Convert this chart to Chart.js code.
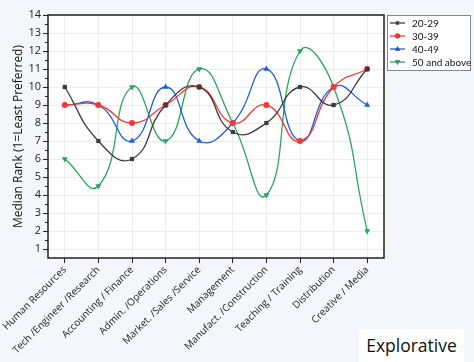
<!DOCTYPE html>
<html>
<head>
<meta charset="utf-8">
<script src="https://cdn.jsdelivr.net/npm/chart.js@4.4.1/dist/chart.umd.min.js"></script>
<style>
  html, body { margin: 0; padding: 0; background: #f5f6fb; }
  #wrap { position: relative; width: 474px; height: 362px; }
  #tag {
    position: absolute; left: 359px; top: 329px; width: 105px; height: 33px;
    background: #fff; font-family: "Open Sans", sans-serif; font-size: 17.5px;
    color: #111; text-align: center; line-height: 33px;
  }
</style>
</head>
<body>
<div id="wrap">
  <canvas id="chart" width="474" height="362"></canvas>
  <div id="tag">Explorative</div>
</div>
<script>
// Data
const categories = ['Human Resources', 'Tech /Engineer /Research', 'Accounting / Finance', 'Admin. /Operations',
  'Market. /Sales /Service', 'Management', 'Manufact. /Construction', 'Teaching / Training', 'Distribution', 'Creative / Media'];
const seriesNames = ['20-29', '30-39', '40-49', '50 and above'];
const age20 = [10, 7, 6, 9, 10, 7.5, 8, 10, 9, 11];
const age30 = [9, 9, 8, 9, 10, 8, 9, 7, 10, 11];
const age40 = [9, 9, 7, 10, 7, 8, 11, 7, 10, 9];
const age50 = [6, 4.5, 10, 7, 11, 8, 4, 12, 10, 2];
const yTicks = [1, 2, 3, 4, 5, 6, 7, 8, 9, 10, 11, 12, 13, 14];

// Styles
const colors = ['#3c3c3c', '#f03a3a', '#2060d8', '#2ea35c'];
const markers = [
  { style: 'rect', rot: 0, r: 3 },
  { style: 'circle', rot: 0, r: 3 },
  { style: 'triangle', rot: 0, r: 3.5 },
  { style: 'triangle', rot: 180, r: 3.5 }
];
const font = "'Open Sans', sans-serif";

const allData = [age20, age30, age40, age50];
const datasets = allData.map((d, i) => ({
  label: seriesNames[i],
  data: d,
  borderColor: colors[i],
  backgroundColor: colors[i],
  borderWidth: 1.3,
  tension: 0.5,
  pointStyle: markers[i].style,
  pointRotation: markers[i].rot,
  pointRadius: markers[i].r,
  pointBorderWidth: 0
}));

// white plot area, frame, minor ticks and legend
const extras = {
  id: 'extras',
  beforeDraw(chart) {
    const { ctx, chartArea: a } = chart;
    ctx.save();
    ctx.fillStyle = '#fff';
    ctx.fillRect(a.left, a.top, a.right - a.left, a.bottom - a.top);
    ctx.restore();
  },
  afterDraw(chart) {
    const { ctx, chartArea: a, scales } = chart;
    ctx.save();
    // minor ticks on y axis
    ctx.strokeStyle = '#222';
    ctx.lineWidth = 1;
    for (let v = 1.5; v < 14; v += 1) {
      const y = Math.round(scales.y.getPixelForValue(v)) + 0.5;
      ctx.beginPath();
      ctx.moveTo(a.left - 3, y);
      ctx.lineTo(a.left, y);
      ctx.stroke();
    }
    // frame
    ctx.strokeStyle = '#222';
    ctx.lineWidth = 1.5;
    ctx.strokeRect(a.left, a.top, a.right - a.left, a.bottom - a.top);
    // legend
    const lx = 387, ly = 15, lw = 83, lh = 55;
    ctx.fillStyle = '#fff';
    ctx.fillRect(lx, ly, lw, lh);
    ctx.strokeStyle = '#888';
    ctx.lineWidth = 1;
    ctx.strokeRect(lx + 0.5, ly + 0.5, lw, lh);
    seriesNames.forEach((name, i) => {
      const y = ly + 8 + i * 13;
      ctx.strokeStyle = colors[i];
      ctx.lineWidth = 1.3;
      ctx.beginPath();
      ctx.moveTo(lx + 3, y);
      ctx.lineTo(lx + 18, y);
      ctx.stroke();
      Chart.helpers.drawPoint(ctx, {
        pointStyle: markers[i].style, rotation: markers[i].rot,
        radius: markers[i].r * 0.8, borderWidth: 0
      }, lx + 10.5, y);
      ctx.fillStyle = colors[i];
      ctx.fill();
      ctx.fillStyle = '#111';
      ctx.font = '10px Lato, sans-serif';
      ctx.textBaseline = 'middle';
      ctx.fillText(name, lx + 25, y + 0.5);
    });
    ctx.restore();
  }
};

new Chart(document.getElementById('chart'), {
  type: 'line',
  data: { labels: categories, datasets: datasets },
  options: {
    responsive: false,
    animation: false,
    layout: { padding: { top: 15, right: 90, left: 0, bottom: 0 } },
    plugins: { legend: { display: false }, tooltip: { enabled: false } },
    scales: {
      x: {
        offset: true,
        grid: { color: '#ececf0', tickColor: '#222', tickLength: 5, offset: false, drawTicks: true },
        border: { display: false },
        ticks: {
          color: '#222', font: { family: font, size: 10 },
          maxRotation: 45, minRotation: 45, autoSkip: false, padding: 1
        },
        afterFit(scale) { scale.height = 104; }
      },
      y: {
        min: 0.5, max: 14,
        afterBuildTicks(scale) { scale.ticks = yTicks.map(v => ({ value: v })); },
        grid: { color: '#ececf0', tickColor: '#222', tickLength: 5 },
        border: { display: false },
        ticks: { color: '#222', font: { family: font, size: 11 }, padding: 2 },
        title: {
          display: true, text: 'Median Rank (1=Least Preferred)',
          color: '#111', font: { family: font, size: 12 }, padding: { top: 11, bottom: 0 }
        },
        afterFit(scale) { scale.width = 48; }
      }
    }
  },
  plugins: [extras]
});
</script>
</body>
</html>
